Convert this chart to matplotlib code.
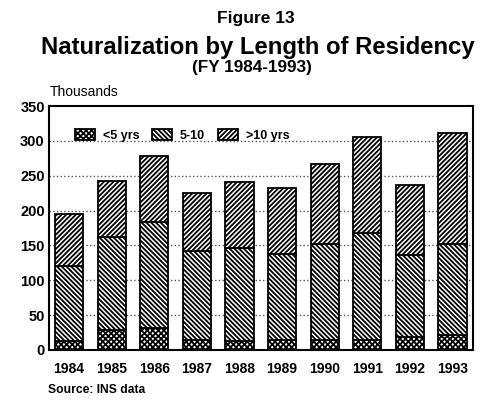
import numpy as np
import matplotlib
matplotlib.use("Agg")
import matplotlib.pyplot as plt

# values in thousands
years = ["1984", "1985", "1986", "1987", "1988", "1989", "1990", "1991", "1992", "1993"]
under5 = [13, 29, 31, 14, 13, 14, 14, 14, 19, 21]
five_to_ten = [107, 133, 152, 128, 133, 124, 138, 154, 117, 131]
over10 = [75, 81, 96, 83, 95, 94, 115, 137, 101, 159]
yticks = [0, 50, 100, 150, 200, 250, 300, 350]

plt.rcParams['font.family'] = ['Liberation Sans', 'DejaVu Sans']
plt.rcParams['hatch.linewidth'] = 1.3

fig = plt.figure(figsize=(5.04, 4.09), dpi=100)
ax = fig.add_axes([0.0972, 0.1443, 0.8413, 0.5965])

x = np.arange(len(years))
w = 0.66
b1 = np.array(under5)
b2 = b1 + np.array(five_to_ten)

ax.bar(x, under5, w, color='white', edgecolor='black', hatch='xxxxxx', lw=1.3,
       label='<5 yrs', zorder=3)
ax.bar(x, five_to_ten, w, bottom=b1, color='white', edgecolor='black', hatch='\\' * 7,
       lw=1.3, label='5-10', zorder=3)
ax.bar(x, over10, w, bottom=b2, color='white', edgecolor='black', hatch='/' * 7,
       lw=1.3, label='>10 yrs', zorder=3)

ax.set_xlim(-0.47, 9.48)
ax.set_ylim(0, 350)
ax.set_yticks(yticks)
ax.set_yticklabels([str(t) for t in yticks], fontweight='bold', fontsize=10.5)
ax.set_xticks(x)
ax.set_xticklabels(years, fontweight='bold', fontsize=10)
ax.tick_params(axis='y', length=0, pad=3)
ax.tick_params(axis='x', length=0, pad=9)
for t in yticks[1:-1]:
    ax.axhline(t, color='#555555', ls=':', lw=1.0, zorder=1)
for s in ax.spines.values():
    s.set_linewidth(1.5)

ax.legend(loc='upper left', bbox_to_anchor=(0.035, 0.95), ncol=3, frameon=False,
          prop={'weight': 'bold', 'size': 9}, handlelength=1.6, handleheight=0.9,
          columnspacing=1.05, handletextpad=0.6)

fig.text(0.507, 0.955, 'Figure 13', ha='center', va='center', fontsize=12.5, fontweight='bold')
fig.text(0.511, 0.883, 'Naturalization by Length of Residency', ha='center', va='center',
         fontsize=17.2, fontweight='bold')
fig.text(0.5, 0.834, '(FY 1984-1993)', ha='center', va='center', fontsize=12.3, fontweight='bold')
fig.text(0.099, 0.775, 'Thousands', ha='left', va='center', fontsize=10)
fig.text(0.095, 0.046, 'Source: INS data', ha='left', va='center', fontsize=8.7, fontweight='bold')

fig.savefig('out.png', dpi=100)
